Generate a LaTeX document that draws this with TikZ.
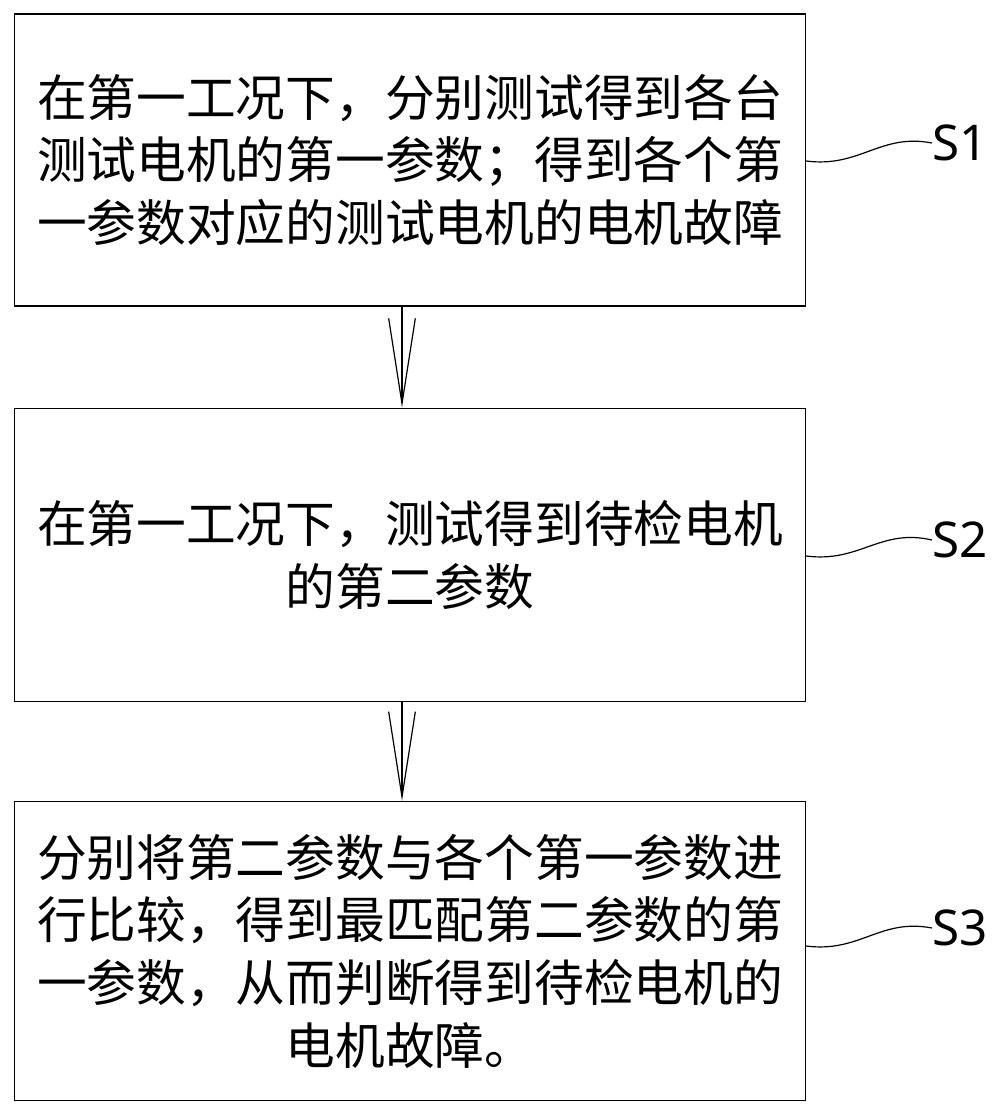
\documentclass[tikz,border=0pt]{standalone}
\usepackage{fontspec}
\newfontfamily\cjk{Noto Sans CJK SC}
\setsansfont{Noto Sans}
\usetikzlibrary{arrows.meta}
\begin{document}
\begin{tikzpicture}[x=0.75pt, y=-0.75pt]
\tikzstyle{stepbox} = [draw, line width=1.2pt, minimum width=593pt, text width=575pt, align=center, inner sep=0pt, font=\cjk\fontsize{37.3}{47}\selectfont]
\tikzstyle{tag} = [font=\sffamily\fontsize{37}{40}\selectfont, anchor=west, inner sep=0pt]
\tikzstyle{flow} = [line width=0.9pt, -{Straight Barb[length=64pt, width=20pt, line width=0.9pt]}]
\useasboundingbox (0,0) rectangle (1002,1114);

\node[stepbox, minimum height=219pt] (s1) at (410,160) {在第一工况下，分别测试得到各台\\测试电机的第一参数；得到各个第\\一参数对应的测试电机的电机故障};
\node[stepbox, minimum height=220pt] (s2) at (410,555) {在第一工况下，测试得到待检电机\\的第二参数};
\node[stepbox, minimum height=224pt] (s3) at (410,951) {分别将第二参数与各个第一参数进\\行比较，得到最匹配第二参数的第\\一参数，从而判断得到待检电机的\\电机故障。};

\draw[flow] (s1.south -| 402,0) -- (s2.north -| 402,0);
\draw[flow] (s2.south -| 402,0) -- (s3.north -| 402,0);

\node[tag] (l1) at (932,143) {S1};
\node[tag] (l2) at (932,540) {S2};
\node[tag] (l3) at (932,928) {S3};
\draw[line width=0.9pt] (s1.east |- 0,161) .. controls (860,168) and (880,133) .. (l1.west);
\draw[line width=0.9pt] (s2.east |- 0,556) .. controls (860,563) and (880,528) .. (l2.west);
\draw[line width=0.9pt] (s3.east |- 0,946) .. controls (860,953) and (880,918) .. (l3.west);
\end{tikzpicture}
\end{document}
